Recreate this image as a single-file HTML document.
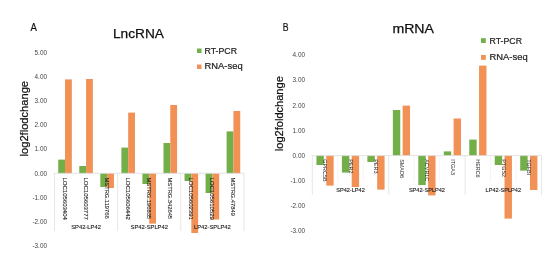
<!DOCTYPE html><html><head><meta charset="utf-8"><style>html,body{margin:0;padding:0;background:#fff}svg{display:block}text{font-family:"Liberation Sans",sans-serif}</style></head><body>
<svg width="550" height="267" viewBox="0 0 550 267">
<rect width="550" height="267" fill="#fff"/>
<rect x="58.23" y="159.60" width="6.80" height="13.70" fill="#72AF48"/>
<rect x="65.03" y="79.40" width="6.80" height="93.90" fill="#F19156"/>
<rect x="79.28" y="166.00" width="6.80" height="7.30" fill="#72AF48"/>
<rect x="86.08" y="79.00" width="6.80" height="94.30" fill="#F19156"/>
<rect x="100.33" y="173.30" width="6.80" height="13.70" fill="#72AF48"/>
<rect x="107.12" y="173.30" width="6.80" height="14.70" fill="#F19156"/>
<rect x="121.38" y="147.60" width="6.80" height="25.70" fill="#72AF48"/>
<rect x="128.18" y="112.60" width="6.80" height="60.70" fill="#F19156"/>
<rect x="142.43" y="173.30" width="6.80" height="10.70" fill="#72AF48"/>
<rect x="149.23" y="173.30" width="6.80" height="50.30" fill="#F19156"/>
<rect x="163.47" y="143.00" width="6.80" height="30.30" fill="#72AF48"/>
<rect x="170.28" y="105.00" width="6.80" height="68.30" fill="#F19156"/>
<rect x="184.53" y="173.30" width="6.80" height="7.70" fill="#72AF48"/>
<rect x="191.33" y="173.30" width="6.80" height="59.70" fill="#F19156"/>
<rect x="205.57" y="173.30" width="6.80" height="19.70" fill="#72AF48"/>
<rect x="212.38" y="173.30" width="6.80" height="46.20" fill="#F19156"/>
<rect x="226.62" y="131.40" width="6.80" height="41.90" fill="#72AF48"/>
<rect x="233.43" y="111.00" width="6.80" height="62.30" fill="#F19156"/>
<line x1="54.5" y1="173.3" x2="243.95" y2="173.3" stroke="#dcdcdc" stroke-width="0.8"/>
<line x1="54.50" y1="173.3" x2="54.50" y2="231" stroke="#dcdcdc" stroke-width="0.7"/>
<line x1="117.65" y1="173.3" x2="117.65" y2="231" stroke="#dcdcdc" stroke-width="0.7"/>
<line x1="180.80" y1="173.3" x2="180.80" y2="231" stroke="#dcdcdc" stroke-width="0.7"/>
<line x1="243.95" y1="173.3" x2="243.95" y2="231" stroke="#dcdcdc" stroke-width="0.7"/>
<text x="47" y="55.1" font-size="6.4" fill="#444" text-anchor="end">5.00</text>
<text x="47" y="78.7" font-size="6.4" fill="#444" text-anchor="end">4.00</text>
<text x="47" y="103.2" font-size="6.4" fill="#444" text-anchor="end">3.00</text>
<text x="47" y="127.2" font-size="6.4" fill="#444" text-anchor="end">2.00</text>
<text x="47" y="151.1" font-size="6.4" fill="#444" text-anchor="end">1.00</text>
<text x="47" y="175.9" font-size="6.4" fill="#444" text-anchor="end">0.00</text>
<text x="47" y="199.8" font-size="6.4" fill="#444" text-anchor="end">-1.00</text>
<text x="47" y="223.7" font-size="6.4" fill="#444" text-anchor="end">-2.00</text>
<text x="47" y="247.8" font-size="6.4" fill="#444" text-anchor="end">-3.00</text>
<text transform="translate(62.83,177.5) rotate(90)" font-size="6.0" fill="#222" stroke="#222" stroke-width="0.1">LOC105603404</text>
<text transform="translate(83.88,177.5) rotate(90)" font-size="6.0" fill="#222" stroke="#222" stroke-width="0.1">LOC105603777</text>
<text transform="translate(104.92,177.5) rotate(90)" font-size="5.75" fill="#222" stroke="#222" stroke-width="0.1">MSTRG.119766</text>
<text transform="translate(125.98,177.5) rotate(90)" font-size="6.0" fill="#222" stroke="#222" stroke-width="0.1">LOC105606442</text>
<text transform="translate(147.03,177.5) rotate(90)" font-size="5.75" fill="#222" stroke="#222" stroke-width="0.1">MSTRG.196835</text>
<text transform="translate(168.08,177.5) rotate(90)" font-size="5.75" fill="#222" stroke="#222" stroke-width="0.1">MSTRG.342645</text>
<text transform="translate(189.13,177.5) rotate(90)" font-size="6.0" fill="#222" stroke="#222" stroke-width="0.1">LOC105602391</text>
<text transform="translate(210.18,177.5) rotate(90)" font-size="6.0" fill="#222" stroke="#222" stroke-width="0.1">LOC105610529</text>
<text transform="translate(231.23,177.5) rotate(90)" font-size="5.75" fill="#222" stroke="#222" stroke-width="0.1">MSTRG.47849</text>
<text x="86.08" y="229.2" font-size="5.8" fill="#222" stroke="#222" stroke-width="0.12" text-anchor="middle">SP42-LP42</text>
<text x="149.23" y="229.2" font-size="5.8" fill="#222" stroke="#222" stroke-width="0.12" text-anchor="middle">SP42-SPLP42</text>
<text x="212.38" y="229.2" font-size="5.8" fill="#222" stroke="#222" stroke-width="0.12" text-anchor="middle">LP42-SPLP42</text>
<text x="30.6" y="31" font-size="11.8" fill="#111" stroke="#111" stroke-width="0.2" textLength="6.4" lengthAdjust="spacingAndGlyphs">A</text>
<text x="113" y="38.4" font-size="13.2" fill="#111" stroke="#111" stroke-width="0.25" textLength="51" lengthAdjust="spacingAndGlyphs">LncRNA</text>
<rect x="197" y="48.5" width="4.5" height="4.5" fill="#72AF48"/>
<text x="204.6" y="53.6" font-size="8.8" fill="#222" stroke="#222" stroke-width="0.2" textLength="32.4" lengthAdjust="spacingAndGlyphs">RT-PCR</text>
<rect x="197" y="64.5" width="4.5" height="4.5" fill="#F19156"/>
<text x="204.6" y="69.4" font-size="8.8" fill="#222" stroke="#222" stroke-width="0.2" textLength="38" lengthAdjust="spacingAndGlyphs">RNA-seq</text>
<text transform="translate(27.8,156.4) rotate(-90)" font-size="11.6" fill="#111" stroke="#111" stroke-width="0.22" textLength="75.4" lengthAdjust="spacingAndGlyphs">log2flodchange</text>
<rect x="316.44" y="155.60" width="7.40" height="9.40" fill="#72AF48"/>
<rect x="326.24" y="155.60" width="7.40" height="30.00" fill="#F19156"/>
<rect x="341.91" y="155.60" width="7.40" height="17.00" fill="#72AF48"/>
<rect x="351.70" y="155.60" width="7.40" height="31.40" fill="#F19156"/>
<rect x="367.38" y="155.60" width="7.40" height="6.40" fill="#72AF48"/>
<rect x="377.18" y="155.60" width="7.40" height="34.00" fill="#F19156"/>
<rect x="392.85" y="110.00" width="7.40" height="45.60" fill="#72AF48"/>
<rect x="402.64" y="105.60" width="7.40" height="50.00" fill="#F19156"/>
<rect x="418.32" y="155.60" width="7.40" height="29.40" fill="#72AF48"/>
<rect x="428.12" y="155.60" width="7.40" height="39.80" fill="#F19156"/>
<rect x="443.79" y="151.40" width="7.40" height="4.20" fill="#72AF48"/>
<rect x="453.58" y="118.50" width="7.40" height="37.10" fill="#F19156"/>
<rect x="469.26" y="139.60" width="7.40" height="16.00" fill="#72AF48"/>
<rect x="479.06" y="65.60" width="7.40" height="90.00" fill="#F19156"/>
<rect x="494.73" y="155.60" width="7.40" height="9.40" fill="#72AF48"/>
<rect x="504.52" y="155.60" width="7.40" height="63.00" fill="#F19156"/>
<rect x="520.20" y="155.60" width="7.40" height="15.00" fill="#72AF48"/>
<rect x="530.00" y="155.60" width="7.40" height="34.40" fill="#F19156"/>
<line x1="312.3" y1="155.6" x2="541.53" y2="155.6" stroke="#dcdcdc" stroke-width="0.8"/>
<line x1="312.30" y1="155.6" x2="312.30" y2="195" stroke="#dcdcdc" stroke-width="0.7"/>
<line x1="337.77" y1="155.6" x2="337.77" y2="182" stroke="#ececec" stroke-width="0.6"/>
<line x1="363.24" y1="155.6" x2="363.24" y2="182" stroke="#ececec" stroke-width="0.6"/>
<line x1="388.71" y1="155.6" x2="388.71" y2="195" stroke="#dcdcdc" stroke-width="0.7"/>
<line x1="414.18" y1="155.6" x2="414.18" y2="182" stroke="#ececec" stroke-width="0.6"/>
<line x1="439.65" y1="155.6" x2="439.65" y2="182" stroke="#ececec" stroke-width="0.6"/>
<line x1="465.12" y1="155.6" x2="465.12" y2="195" stroke="#dcdcdc" stroke-width="0.7"/>
<line x1="490.59" y1="155.6" x2="490.59" y2="182" stroke="#ececec" stroke-width="0.6"/>
<line x1="516.06" y1="155.6" x2="516.06" y2="182" stroke="#ececec" stroke-width="0.6"/>
<line x1="541.53" y1="155.6" x2="541.53" y2="195" stroke="#dcdcdc" stroke-width="0.7"/>
<text x="305" y="56.9" font-size="6.4" fill="#444" text-anchor="end">4.00</text>
<text x="305" y="81.8" font-size="6.4" fill="#444" text-anchor="end">3.00</text>
<text x="305" y="107.7" font-size="6.4" fill="#444" text-anchor="end">2.00</text>
<text x="305" y="132.7" font-size="6.4" fill="#444" text-anchor="end">1.00</text>
<text x="305" y="158.2" font-size="6.4" fill="#444" text-anchor="end">0.00</text>
<text x="305" y="182.8" font-size="6.4" fill="#444" text-anchor="end">-1.00</text>
<text x="305" y="207.7" font-size="6.4" fill="#444" text-anchor="end">-2.00</text>
<text x="305" y="233.2" font-size="6.4" fill="#444" text-anchor="end">-3.00</text>
<text transform="translate(323.34,159.2) rotate(90)" font-size="5.45" fill="#2a2a2a">GPRC5B</text>
<text transform="translate(348.81,159.2) rotate(90)" font-size="5.45" fill="#2a2a2a">PER2</text>
<text transform="translate(374.28,159.2) rotate(90)" font-size="5.45" fill="#2a2a2a">PER3</text>
<text transform="translate(399.75,159.2) rotate(90)" font-size="5.45" fill="#2a2a2a">SMAD6</text>
<text transform="translate(425.22,159.2) rotate(90)" font-size="5.45" fill="#2a2a2a">ACVR1C</text>
<text transform="translate(450.69,159.2) rotate(90)" font-size="5.45" fill="#2a2a2a">ITGA3</text>
<text transform="translate(476.16,159.2) rotate(90)" font-size="5.45" fill="#2a2a2a">HERC6</text>
<text transform="translate(501.62,159.2) rotate(90)" font-size="5.45" fill="#2a2a2a">PTGS2</text>
<text transform="translate(527.10,159.2) rotate(90)" font-size="5.45" fill="#2a2a2a">TGFBI</text>
<text x="350.50" y="192.4" font-size="5.6" fill="#222" stroke="#222" stroke-width="0.12" text-anchor="middle">SP42-LP42</text>
<text x="426.92" y="192.4" font-size="5.6" fill="#222" stroke="#222" stroke-width="0.12" text-anchor="middle">SP42-SPLP42</text>
<text x="503.32" y="192.4" font-size="5.6" fill="#222" stroke="#222" stroke-width="0.12" text-anchor="middle">LP42-SPLP42</text>
<text x="282.8" y="30.8" font-size="11.2" fill="#111" stroke="#111" stroke-width="0.2" textLength="5.8" lengthAdjust="spacingAndGlyphs">B</text>
<text x="392.4" y="32.6" font-size="13" fill="#111" stroke="#111" stroke-width="0.25" textLength="41.6" lengthAdjust="spacingAndGlyphs">mRNA</text>
<rect x="481" y="38.2" width="4.8" height="4.8" fill="#72AF48"/>
<text x="489.6" y="43.6" font-size="8.8" fill="#222" stroke="#222" stroke-width="0.2" textLength="32.4" lengthAdjust="spacingAndGlyphs">RT-PCR</text>
<rect x="481" y="55" width="4.8" height="4.8" fill="#F19156"/>
<text x="489.6" y="60.3" font-size="8.8" fill="#222" stroke="#222" stroke-width="0.2" textLength="38" lengthAdjust="spacingAndGlyphs">RNA-seq</text>
<text transform="translate(282.5,151.2) rotate(-90)" font-size="11.6" fill="#111" stroke="#111" stroke-width="0.22" textLength="75" lengthAdjust="spacingAndGlyphs">log2foldchange</text>
</svg></body></html>
